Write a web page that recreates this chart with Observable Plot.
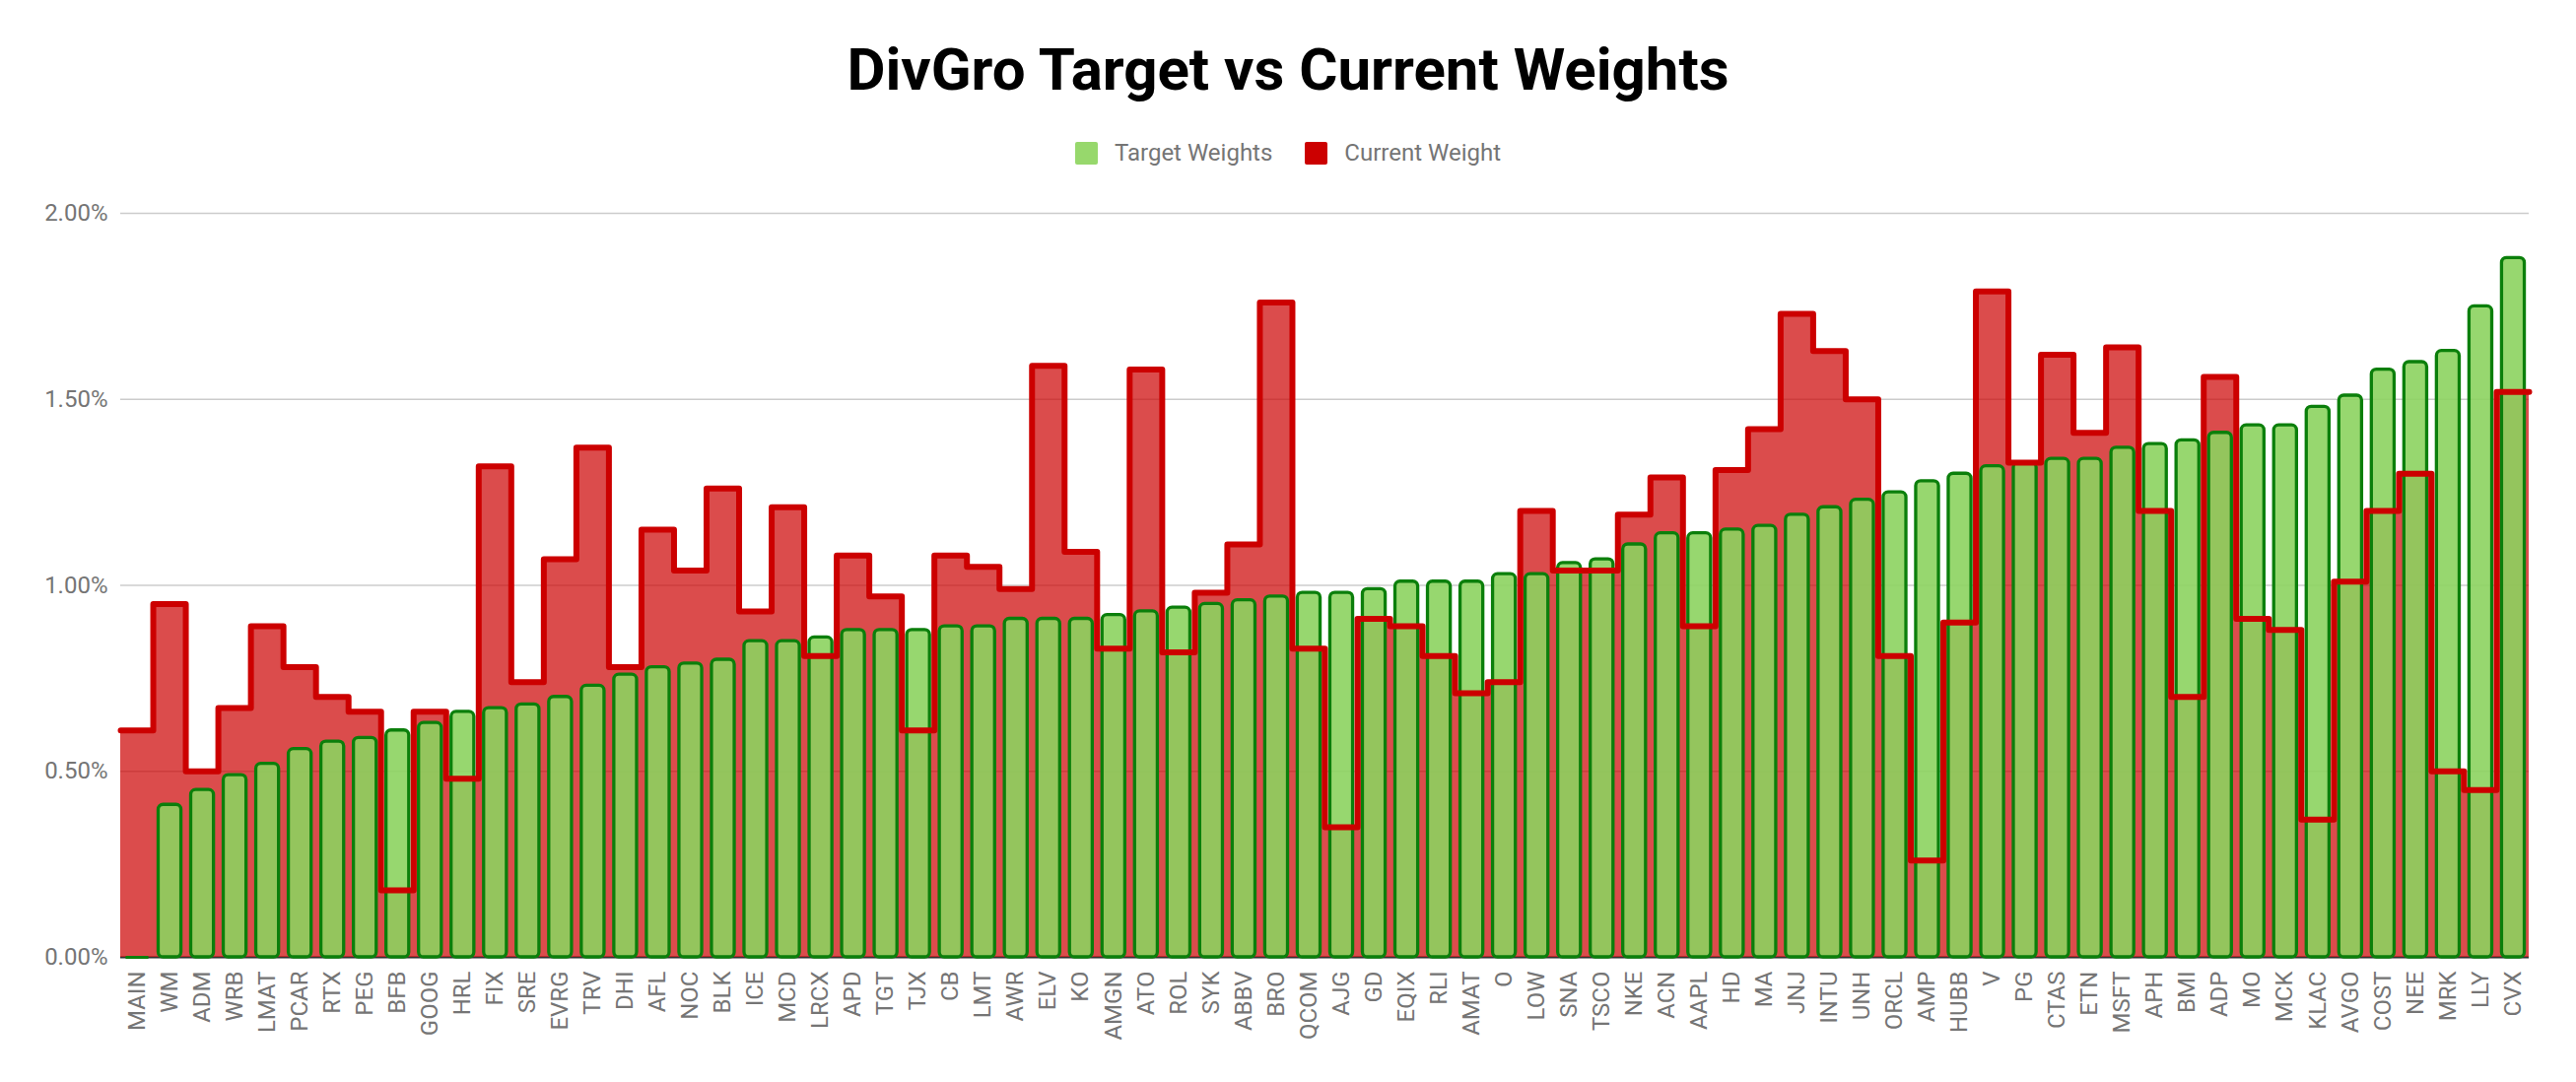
<!DOCTYPE html>
<html>
<head>
<meta charset="utf-8">
<script src="https://cdn.jsdelivr.net/npm/d3@7"></script>
<script src="https://cdn.jsdelivr.net/npm/@observablehq/plot@0.6"></script>
<style>
  body { margin: 0; background: #fff; font-family: Roboto, sans-serif; }
  #wrap { position: relative; width: 2614px; height: 1098px; overflow: hidden; }
  #title { position: absolute; left: 0; width: 2614px; top: 41px; text-align: center;
           font-weight: 700; font-size: 60px; line-height: 60px; color: #000; }
  #legend { position: absolute; left: 0; width: 2614px; top: 141px; height: 28px;
            display: flex; justify-content: center; align-items: center;
            font-size: 24px; color: #757575; }
  .sw { width: 23px; height: 23px; border-radius: 2px; margin-right: 17px; }
  #chart { position: absolute; left: 0; top: 180px; }
</style>
</head>
<body>
<div id="wrap">
  <div id="title">DivGro Target vs Current Weights</div>
  <div id="legend">
    <div class="sw" style="background:#97d86c"></div><span>Target Weights</span>
    <div class="sw" style="background:#cc0000;margin-left:33px"></div><span>Current Weight</span>
  </div>
  <div id="chart"></div>
</div>
<script>
const tickers = ["MAIN","WM","ADM","WRB","LMAT","PCAR","RTX","PEG","BFB","GOOG",
  "HRL","FIX","SRE","EVRG","TRV","DHI","AFL","NOC","BLK","ICE",
  "MCD","LRCX","APD","TGT","TJX","CB","LMT","AWR","ELV","KO",
  "AMGN","ATO","ROL","SYK","ABBV","BRO","QCOM","AJG","GD","EQIX",
  "RLI","AMAT","O","LOW","SNA","TSCO","NKE","ACN","AAPL","HD",
  "MA","JNJ","INTU","UNH","ORCL","AMP","HUBB","V","PG","CTAS",
  "ETN","MSFT","APH","BMI","ADP","MO","MCK","KLAC","AVGO","COST",
  "NEE","MRK","LLY","CVX"];

// Target weights (%)
const targetWeights = [0.00,0.41,0.45,0.49,0.52,0.56,0.58,0.59,0.61,0.63,
  0.66,0.67,0.68,0.70,0.73,0.76,0.78,0.79,0.80,0.85,
  0.85,0.86,0.88,0.88,0.88,0.89,0.89,0.91,0.91,0.91,
  0.92,0.93,0.94,0.95,0.96,0.97,0.98,0.98,0.99,1.01,
  1.01,1.01,1.03,1.03,1.06,1.07,1.11,1.14,1.14,1.15,
  1.16,1.19,1.21,1.23,1.25,1.28,1.30,1.32,1.33,1.34,
  1.34,1.37,1.38,1.39,1.41,1.43,1.43,1.48,1.51,1.58,
  1.60,1.63,1.75,1.88];

// Current weights (%)
const currentWeights = [0.61,0.95,0.50,0.67,0.89,0.78,0.70,0.66,0.18,0.66,
  0.48,1.32,0.74,1.07,1.37,0.78,1.15,1.04,1.26,0.93,
  1.21,0.81,1.08,0.97,0.61,1.08,1.05,0.99,1.59,1.09,
  0.83,1.58,0.82,0.98,1.11,1.76,0.83,0.35,0.91,0.89,
  0.81,0.71,0.74,1.20,1.04,1.04,1.19,1.29,0.89,1.31,
  1.42,1.73,1.63,1.50,0.81,0.26,0.90,1.79,1.33,1.62,
  1.41,1.64,1.20,0.70,1.56,0.91,0.88,0.37,1.01,1.20,
  1.30,0.50,0.45,1.52];

const yTicks = [0, 0.5, 1.0, 1.5, 2.0];

const n = tickers.length;
const bars = tickers.map((t, i) => ({i, ticker: t, target: targetWeights[i]}));
const steps = currentWeights.map((c, i) => ({i, v: c}))
  .concat([{i: n, v: currentWeights[n - 1]}]);

const green = "#8cd35f", greenStroke = "#0b7f0b", red = "#cc0000";

const chart = Plot.plot({
  width: 2614,
  height: 918,
  marginLeft: 122,
  marginRight: 48,
  marginTop: 36,
  marginBottom: 127,
  style: {fontFamily: "Roboto, sans-serif", fontSize: "24px", color: "#757575", background: "white"},
  x: {type: "linear", domain: [0, n], axis: null},
  y: {domain: [0, 2], axis: null},
  marks: [
    Plot.ruleY(yTicks, {stroke: "#cccccc", strokeWidth: 1.5}),
    Plot.ruleY([0], {stroke: "#333333", strokeWidth: 2}),
    Plot.areaY(steps, {x: "i", y: "v", curve: "step-after", fill: red, fillOpacity: 0.7}),
    Plot.rect(bars, {x1: d => d.i + 0.165, x2: d => d.i + 0.865, y1: d => 0, y2: "target",
      fill: green, fillOpacity: 0.9, stroke: greenStroke, strokeWidth: 3.3, rx: 5}),
    Plot.ruleY(bars.filter(d => d.target === 0), {x1: d => d.i + 0.165, x2: d => d.i + 0.865, y: "target",
      stroke: greenStroke, strokeWidth: 3}),
    Plot.lineY(steps, {x: "i", y: "v", curve: "step-after", stroke: red, strokeWidth: 6, strokeLinejoin: "round"}),
    Plot.axisY({ticks: yTicks, tickFormat: d => d.toFixed(2) + "%", tickSize: 0, tickPadding: 13, label: null}),
    Plot.axisX({ticks: tickers.map((_, i) => i + 0.5), tickFormat: d => tickers[Math.floor(d)],
      tickRotate: -90, tickSize: 0, tickPadding: 14, label: null})
  ]
});
document.getElementById("chart").appendChild(chart);
</script>
</body>
</html>
